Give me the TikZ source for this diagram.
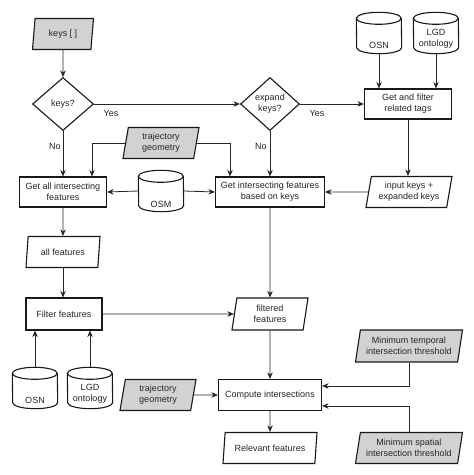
\documentclass[tikz,border=0pt]{standalone}
\usepackage{fontspec}
\setmainfont{Liberation Sans}
\usetikzlibrary{shapes.geometric,arrows.meta}
\newcommand\drawdb[1]{%
  \fill[white] ([yshift=-6pt]#1.north west) arc[start angle=180,end angle=0,x radius=0.5*\dbw,y radius=6pt] -- ([yshift=6pt]#1.south east) arc[start angle=0,end angle=-180,x radius=0.5*\dbw,y radius=6pt] -- cycle;
  \draw[boxline] ([yshift=-6pt]#1.north west) arc[start angle=180,end angle=0,x radius=0.5*\dbw,y radius=6pt] -- ([yshift=6pt]#1.south east) arc[start angle=0,end angle=-180,x radius=0.5*\dbw,y radius=6pt] -- cycle;
  \draw[boxline] ([yshift=-6pt]#1.north west) arc[start angle=180,end angle=360,x radius=0.5*\dbw,y radius=6pt];
}
\newcommand\dbw{45pt}
\begin{document}
\begin{tikzpicture}[x=1pt,y=1pt,
  every node/.style={font=\fontsize{9}{11}\selectfont, align=center, inner sep=1pt, text=black!85},
  boxline/.style={line width=1.1pt, draw=black!90},
  proc/.style={draw, boxline, rectangle, minimum height=30pt},
  io/.style={draw, boxline, trapezium, trapezium left angle=76, trapezium right angle=104, trapezium stretches body, minimum height=31pt},
  inp/.style={io, fill=gray!35},
  dec/.style={draw, boxline, diamond, inner sep=0pt},
  dbnode/.style={rectangle, minimum width=45pt, minimum height=41pt, inner sep=0pt},
  arr/.style={line width=0.8pt, draw=black!85, -{Stealth[length=6.5pt,width=5.5pt]}},
  lbl/.style={inner sep=0pt}]
\useasboundingbox (0,0) rectangle (474,475);
\fill[white] (0,0) rectangle (474,475);

% nodes
\node[inp, minimum width=61pt] (keys) at (63,441) {keys [ ]};
\node[dec, minimum width=61pt, minimum height=53pt] (kq) at (63,371) {keys?};
\node[proc, minimum width=87pt] (getall) at (63,283) {Get all intersecting\\features};
\node[inp, minimum width=76pt] (traj1) at (161,332) {trajectory\\geometry};
\node[dbnode] (osm) at (161,284) {};
\node[proc, minimum width=109pt] (getkeys) at (270,283) {Get intersecting features\\based on keys};
\node[dec, minimum width=59pt, minimum height=53pt] (expand) at (270,371) {expand\\keys?};
\node[proc, minimum width=87pt] (tags) at (408,371) {Get and filter\\related tags};
\node[dbnode] (osn1) at (379,442) {};
\node[dbnode] (lgd1) at (436,442) {};
\node[io, minimum width=86pt] (inkeys) at (409,283) {input keys +\\expanded keys};
\node[io, minimum width=74pt] (allfeat) at (63,223) {all features};
\node[proc, minimum width=76pt, minimum height=32pt] (filter) at (64,161) {Filter features};
\node[io, minimum width=76pt, minimum height=32pt] (filtered) at (270,161) {filtered\\features};
\node[dbnode] (osn2) at (35,87) {};
\node[dbnode] (lgd2) at (90,87) {};
\node[inp, minimum width=76pt] (traj2) at (158,80) {trajectory\\geometry};
\node[proc, minimum width=103pt, minimum height=31pt] (compute) at (270,80) {Compute intersections};
\node[io, minimum width=94pt] (relevant) at (270,27) {Relevant features};
\node[inp, minimum width=107pt, minimum height=32pt] (mintemp) at (409,129) {Minimum temporal\\intersection threshold};
\node[inp, minimum width=107pt] (minspat) at (409,27) {Minimum spatial\\intersection threshold};

% databases
\drawdb{osm}\drawdb{osn1}\drawdb{lgd1}\drawdb{osn2}\drawdb{lgd2}
\node[lbl] (osmt) at (161,271) {OSM};
\node[lbl] (osn1t) at (379,430) {OSN};
\node[lbl] (lgd1t) at (436,436) {LGD\\ontology};
\node[lbl] (osn2t) at (35,75) {OSN};
\node[lbl] (lgd2t) at (90,81) {LGD\\ontology};

% connectors
\draw[arr] (keys.south) -- (kq.north);
\draw[arr] (kq.east) -- (expand.west);
\draw[arr] (kq.south) -- (getall.north);
\draw[arr] (traj1.west) -| ([xshift=29pt]getall.north);
\draw[arr] (traj1.east) -| ([xshift=-40pt]getkeys.north);
\draw[arr] (osm.west) -- (getall.east);
\draw[arr] (osm.east) -- (getkeys.west);
\draw[arr] (expand.east) -- (tags.west);
\draw[arr] (expand.south) -- (getkeys.north);
\draw[arr] (osn1.south) -- (osn1.south |- tags.north);
\draw[arr] (lgd1.south) -- (lgd1.south |- tags.north);
\draw[arr] (tags.south) -- (tags.south |- inkeys.north);
\draw[arr] (inkeys.west) -- (getkeys.east);
\draw[arr] (getall.south) -- (allfeat.north);
\draw[arr] (allfeat.south) -- (allfeat.south |- filter.north);
\draw[arr] (filter.east) -- (filtered.west);
\draw[arr] (osn2.north) -- (osn2.north |- filter.south);
\draw[arr] (lgd2.north) -- (lgd2.north |- filter.south);
\draw[arr] (getkeys.south) -- (filtered.north);
\draw[arr] (filtered.south) -- (compute.north);
\draw[arr] (traj2.east) -- (compute.west);
\draw[arr] (compute.south) -- (relevant.north);
\draw[arr] (mintemp.south) |- ([yshift=9pt]compute.east);
\draw[arr] (minspat.north) |- ([yshift=-11pt]compute.east);

% labels
\node[lbl] (yes1) at (111,362) {Yes};
\node[lbl] (no1) at (55,329) {No};
\node[lbl] (yes2) at (317,362) {Yes};
\node[lbl] (no2) at (261,329) {No};
\end{tikzpicture}
\end{document}
